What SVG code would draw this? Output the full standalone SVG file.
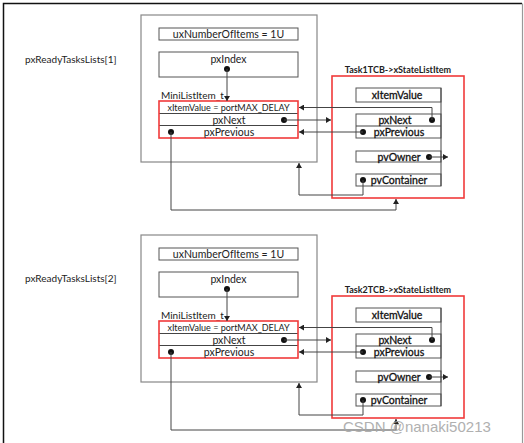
<svg xmlns="http://www.w3.org/2000/svg" width="524" height="443" viewBox="0 0 524 443">
<style>
text{font-family:Lato,"Open Sans","Liberation Sans",sans-serif;fill:#222;}
.t{font-size:10.5px;text-anchor:middle;}
.s{font-size:9px;text-anchor:middle;}
.b{font-size:10.5px;text-anchor:middle;fill:#111;stroke:#111;stroke-width:0.3;}
.lbl{font-size:10px;}
.outer{fill:none;stroke:#888;stroke-width:1.2;}
.box{fill:#fff;stroke:#555;stroke-width:1;}
.red{fill:none;stroke:#f03a3a;stroke-width:1.6;}
.ln{fill:none;stroke:#444;stroke-width:1;}
.con{fill:none;stroke:#444;stroke-width:1;marker-end:url(#ah);}
.dot{fill:#111;}
</style>
<defs>
<marker id="ah" markerUnits="userSpaceOnUse" markerWidth="6" markerHeight="6" refX="5" refY="3" orient="auto"><path d="M0,0 L5,3 L0,6 Z" fill="#222"/></marker>
</defs>
<g id="frame">
<path d="M3.5,443 V3.5 H522" fill="none" stroke="#111" stroke-width="1.5"/>
<path d="M522.5,3.5 V443" fill="none" stroke="#999" stroke-width="1.2"/>
</g>

<g id="sec1">
<g id="label1"><text class="lbl" x="25" y="63">pxReadyTasksLists[1]</text></g>
<g id="list1">
<rect class="outer" x="141" y="15" width="176" height="147"/>
<rect class="box" x="159" y="28" width="139" height="12"/>
<text class="t" x="228.5" y="38">uxNumberOfItems = 1U</text>
<rect class="box" x="159" y="52" width="139" height="25"/>
<text class="t" x="228.5" y="63">pxIndex</text>
<circle class="dot" cx="227" cy="69" r="3"/>
</g>
<g id="mini1">
<text class="lbl" x="161" y="98.5">MiniListItem_t</text>
<rect x="159" y="101" width="139" height="37" fill="#fff"/>
<line class="ln" x1="159" y1="113.5" x2="298" y2="113.5"/>
<line class="ln" x1="159" y1="125.5" x2="298" y2="125.5"/>
<rect class="red" x="159" y="101" width="139" height="37"/>
<text class="s" x="228.5" y="110.5">xItemValue = portMAX_DELAY</text>
<text class="t" x="229" y="123.5">pxNext</text>
<text class="t" x="229" y="135.5">pxPrevious</text>
<circle class="dot" cx="284" cy="120" r="3"/>
<circle class="dot" cx="171" cy="132" r="3"/>
</g>
<g id="tcb1">
<text class="s" x="398" y="73" font-weight="bold">Task1TCB-&gt;xStateListItem</text>
<rect class="red" x="332" y="76" width="132" height="122"/>
<rect class="box" x="356" y="88" width="85" height="14"/>
<rect class="box" x="356" y="114" width="85" height="24"/>
<line class="ln" x1="356" y1="126" x2="441" y2="126"/>
<rect class="box" x="356" y="151" width="85" height="11"/>
<rect class="box" x="356" y="174" width="85" height="12"/>
<line class="ln" x1="441" y1="88" x2="441" y2="186"/>
<text class="b" x="397" y="98.5">xItemValue</text>
<text class="b" x="395" y="123.5">pxNext</text>
<text class="b" x="399" y="135.5">pxPrevious</text>
<text class="b" x="399" y="160.5">pvOwner</text>
<text class="b" x="399" y="184">pvContainer</text>
<circle class="dot" cx="432" cy="120" r="3"/>
<circle class="dot" cx="363" cy="132" r="3"/>
<circle class="dot" cx="429" cy="157" r="3"/>
<circle class="dot" cx="363" cy="180" r="3"/>
</g>
<g id="connectors1">
<path class="con" d="M227,69 V101"/>
<path class="con" d="M432,120 V107.5 H299"/>
<path class="con" d="M284,120 H331"/>
<path class="con" d="M363,132 H299"/>
<path class="con" d="M429,157 H448"/>
<path class="con" d="M363,180 V195 H299 V163"/>
<path class="con" d="M171,132 V210 H396 V199"/>
</g>
</g>

<g id="sec2" transform="translate(0,220)">
<g id="label2"><text class="lbl" x="25" y="62">pxReadyTasksLists[2]</text></g>
<g id="list2">
<rect class="outer" x="141" y="15" width="176" height="147"/>
<rect class="box" x="159" y="28" width="139" height="12"/>
<text class="t" x="228.5" y="38">uxNumberOfItems = 1U</text>
<rect class="box" x="159" y="52" width="139" height="25"/>
<text class="t" x="228.5" y="63">pxIndex</text>
<circle class="dot" cx="227" cy="69" r="3"/>
</g>
<g id="mini2">
<text class="lbl" x="161" y="98.5">MiniListItem_t</text>
<rect x="159" y="101" width="139" height="37" fill="#fff"/>
<line class="ln" x1="159" y1="113.5" x2="298" y2="113.5"/>
<line class="ln" x1="159" y1="125.5" x2="298" y2="125.5"/>
<rect class="red" x="159" y="101" width="139" height="37"/>
<text class="s" x="228.5" y="110.5">xItemValue = portMAX_DELAY</text>
<text class="t" x="229" y="123.5">pxNext</text>
<text class="t" x="229" y="135.5">pxPrevious</text>
<circle class="dot" cx="284" cy="120" r="3"/>
<circle class="dot" cx="171" cy="132" r="3"/>
</g>
<g id="tcb2">
<text class="s" x="398" y="73" font-weight="bold">Task2TCB-&gt;xStateListItem</text>
<rect class="red" x="332" y="76" width="132" height="122"/>
<rect class="box" x="356" y="88" width="85" height="14"/>
<rect class="box" x="356" y="114" width="85" height="24"/>
<line class="ln" x1="356" y1="126" x2="441" y2="126"/>
<rect class="box" x="356" y="151" width="85" height="11"/>
<rect class="box" x="356" y="174" width="85" height="12"/>
<line class="ln" x1="441" y1="88" x2="441" y2="186"/>
<text class="b" x="397" y="98.5">xItemValue</text>
<text class="b" x="395" y="123.5">pxNext</text>
<text class="b" x="399" y="135.5">pxPrevious</text>
<text class="b" x="399" y="160.5">pvOwner</text>
<text class="b" x="399" y="184">pvContainer</text>
<circle class="dot" cx="432" cy="120" r="3"/>
<circle class="dot" cx="363" cy="132" r="3"/>
<circle class="dot" cx="429" cy="157" r="3"/>
<circle class="dot" cx="363" cy="180" r="3"/>
</g>
<g id="connectors2">
<path class="con" d="M227,69 V101"/>
<path class="con" d="M432,120 V107.5 H299"/>
<path class="con" d="M284,120 H331"/>
<path class="con" d="M363,132 H299"/>
<path class="con" d="M429,157 H448"/>
<path class="con" d="M363,180 V195 H299 V163"/>
<path class="con" d="M171,132 V210 H396 V199"/>
</g>
</g>
<text x="343" y="432" font-size="15" style="fill:#a8a8a8;font-family:'Liberation Sans',Arial,sans-serif" opacity="0.9">CSDN @nanaki50213</text>
</svg>
